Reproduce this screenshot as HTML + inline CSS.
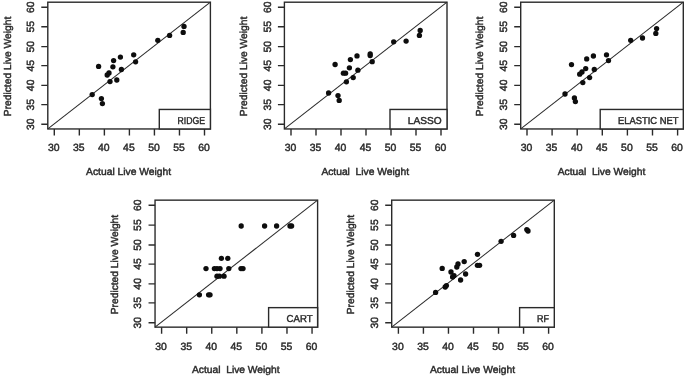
<!DOCTYPE html>
<html lang="en">
<head>
<meta charset="utf-8">
<title>Predicted vs Actual Live Weight</title>
<style>
html,body{margin:0;padding:0;background:#fff;}
body{width:685px;height:377px;overflow:hidden;font-family:"Liberation Sans",Arial,sans-serif;}
svg{display:block;}
svg text{font-family:"Liberation Sans",Arial,sans-serif;fill:#2b2b2b;stroke:#2b2b2b;stroke-width:0.45;text-rendering:geometricPrecision;}
.ln{stroke:#2b2b2b;stroke-width:1.4;fill:none;}
.dg{stroke:#2b2b2b;stroke-width:1.05;fill:none;}
.pt{fill:#0a0a0a;}
.tk{font-size:10.4px;text-anchor:middle;}
.ax{font-size:10.2px;text-anchor:middle;white-space:pre;}
.lg{font-size:10px;text-anchor:end;}
</style>
</head>
<body>
<svg width="685" height="377" viewBox="0 0 685 377">
<defs><filter id="soft" x="0" y="0" width="685" height="377" filterUnits="userSpaceOnUse"><feGaussianBlur stdDeviation="0.38"/></filter></defs>
<rect x="0" y="0" width="685" height="377" fill="#ffffff"/>
<g filter="url(#soft)">

<g>
<rect class="ln" x="47.8" y="2.2" width="162.6" height="126.75"/>
<line class="dg" x1="47.8" y1="128.95" x2="210.4" y2="2.2"/>
<rect class="ln" x="159.3" y="109.45" width="51.1" height="19.5" fill="#fff" style="fill:#fff"/>
<text class="lg" x="205" y="123.75" textLength="27.5" lengthAdjust="spacingAndGlyphs">RIDGE</text>
<path class="ln" d="M54.3 128.95v6.5M47.8 124.26h-6.5M79.33 128.95v6.5M47.8 104.64h-6.5M104.37 128.95v6.5M47.8 85.37h-6.5M129.4 128.95v6.5M47.8 65.65h-6.5M154.43 128.95v6.5M47.8 46.65h-6.5M179.47 128.95v6.5M47.8 26.76h-6.5M204.5 128.95v6.5M47.8 7.22h-6.5"/>
<text class="tk" x="53.8" y="151.3">30</text>
<text class="tk" x="78.83" y="151.3">35</text>
<text class="tk" x="103.87" y="151.3">40</text>
<text class="tk" x="128.9" y="151.3">45</text>
<text class="tk" x="153.93" y="151.3">50</text>
<text class="tk" x="178.97" y="151.3">55</text>
<text class="tk" x="204" y="151.3">60</text>
<text class="tk" transform="translate(34.2 124.26) rotate(-90)">30</text>
<text class="tk" transform="translate(34.2 104.64) rotate(-90)">35</text>
<text class="tk" transform="translate(34.2 85.37) rotate(-90)">40</text>
<text class="tk" transform="translate(34.2 65.65) rotate(-90)">45</text>
<text class="tk" transform="translate(34.2 46.65) rotate(-90)">50</text>
<text class="tk" transform="translate(34.2 26.76) rotate(-90)">55</text>
<text class="tk" transform="translate(34.2 7.22) rotate(-90)">60</text>
<text class="ax" xml:space="preserve" x="128.6" y="175.35" textLength="85" lengthAdjust="spacingAndGlyphs">Actual Live Weight</text>
<text class="ax" transform="translate(10.5 66.47) rotate(-90)" textLength="99.4" lengthAdjust="spacingAndGlyphs">Predicted Live Weight</text>
<circle class="pt" cx="184" cy="26.4" r="2.65"/>
<circle class="pt" cx="183.2" cy="32.4" r="2.65"/>
<circle class="pt" cx="169.6" cy="35.4" r="2.65"/>
<circle class="pt" cx="157.8" cy="40.3" r="2.65"/>
<circle class="pt" cx="133.7" cy="54.8" r="2.65"/>
<circle class="pt" cx="135.6" cy="61.8" r="2.65"/>
<circle class="pt" cx="120.4" cy="57.1" r="2.65"/>
<circle class="pt" cx="113.6" cy="60.6" r="2.65"/>
<circle class="pt" cx="112.9" cy="66.8" r="2.65"/>
<circle class="pt" cx="121.4" cy="69.5" r="2.65"/>
<circle class="pt" cx="109" cy="73" r="2.65"/>
<circle class="pt" cx="107.2" cy="75" r="2.65"/>
<circle class="pt" cx="110" cy="81.6" r="2.65"/>
<circle class="pt" cx="116.8" cy="80" r="2.65"/>
<circle class="pt" cx="98.6" cy="66.4" r="2.65"/>
<circle class="pt" cx="92.2" cy="94.6" r="2.65"/>
<circle class="pt" cx="101.4" cy="98.6" r="2.65"/>
<circle class="pt" cx="102.4" cy="103.6" r="2.65"/>
</g>
<g>
<rect class="ln" x="284.4" y="2.2" width="162.6" height="126.75"/>
<line class="dg" x1="284.4" y1="128.95" x2="447" y2="2.2"/>
<rect class="ln" x="390" y="109.45" width="57" height="19.5" fill="#fff" style="fill:#fff"/>
<text class="lg" x="441.6" y="123.75" textLength="33.8" lengthAdjust="spacingAndGlyphs">LASSO</text>
<path class="ln" d="M291 128.95v6.5M284.4 124.26h-6.5M316 128.95v6.5M284.4 104.64h-6.5M341 128.95v6.5M284.4 85.37h-6.5M366 128.95v6.5M284.4 65.65h-6.5M391 128.95v6.5M284.4 46.65h-6.5M416 128.95v6.5M284.4 26.76h-6.5M441 128.95v6.5M284.4 7.22h-6.5"/>
<text class="tk" x="290.5" y="151.3">30</text>
<text class="tk" x="315.5" y="151.3">35</text>
<text class="tk" x="340.5" y="151.3">40</text>
<text class="tk" x="365.5" y="151.3">45</text>
<text class="tk" x="390.5" y="151.3">50</text>
<text class="tk" x="415.5" y="151.3">55</text>
<text class="tk" x="440.5" y="151.3">60</text>
<text class="tk" transform="translate(270.8 124.26) rotate(-90)">30</text>
<text class="tk" transform="translate(270.8 104.64) rotate(-90)">35</text>
<text class="tk" transform="translate(270.8 85.37) rotate(-90)">40</text>
<text class="tk" transform="translate(270.8 65.65) rotate(-90)">45</text>
<text class="tk" transform="translate(270.8 46.65) rotate(-90)">50</text>
<text class="tk" transform="translate(270.8 26.76) rotate(-90)">55</text>
<text class="tk" transform="translate(270.8 7.22) rotate(-90)">60</text>
<text class="ax" xml:space="preserve" x="365.2" y="175.35" textLength="87.6" lengthAdjust="spacingAndGlyphs">Actual  Live Weight</text>
<text class="ax" transform="translate(247.1 66.47) rotate(-90)" textLength="99.4" lengthAdjust="spacingAndGlyphs">Predicted Live Weight</text>
<circle class="pt" cx="420.2" cy="30.4" r="2.65"/>
<circle class="pt" cx="419.4" cy="35.4" r="2.65"/>
<circle class="pt" cx="406.1" cy="41.1" r="2.65"/>
<circle class="pt" cx="393.7" cy="41.8" r="2.65"/>
<circle class="pt" cx="370.2" cy="53.8" r="2.65"/>
<circle class="pt" cx="370.2" cy="55.6" r="2.65"/>
<circle class="pt" cx="372.2" cy="61.7" r="2.65"/>
<circle class="pt" cx="357" cy="55.9" r="2.65"/>
<circle class="pt" cx="350.4" cy="59.6" r="2.65"/>
<circle class="pt" cx="335.1" cy="64.5" r="2.65"/>
<circle class="pt" cx="349.4" cy="67.8" r="2.65"/>
<circle class="pt" cx="357.9" cy="70.2" r="2.65"/>
<circle class="pt" cx="345.6" cy="73.2" r="2.65"/>
<circle class="pt" cx="343.4" cy="73.2" r="2.65"/>
<circle class="pt" cx="353.2" cy="77.6" r="2.65"/>
<circle class="pt" cx="346.4" cy="81.8" r="2.65"/>
<circle class="pt" cx="328.6" cy="93" r="2.65"/>
<circle class="pt" cx="338" cy="95.6" r="2.65"/>
<circle class="pt" cx="339.2" cy="100.4" r="2.65"/>
</g>
<g>
<rect class="ln" x="520.7" y="2.2" width="162.6" height="126.75"/>
<line class="dg" x1="520.7" y1="128.95" x2="683.3" y2="2.2"/>
<rect class="ln" x="600.2" y="109.45" width="83.1" height="19.5" fill="#fff" style="fill:#fff"/>
<text class="lg" x="678.4" y="123.75" textLength="60.4" lengthAdjust="spacingAndGlyphs">ELASTIC NET</text>
<path class="ln" d="M527 128.95v6.5M520.7 124.26h-6.5M552.1 128.95v6.5M520.7 104.64h-6.5M577.2 128.95v6.5M520.7 85.37h-6.5M602.3 128.95v6.5M520.7 65.65h-6.5M627.4 128.95v6.5M520.7 46.65h-6.5M652.5 128.95v6.5M520.7 26.76h-6.5M677.6 128.95v6.5M520.7 7.22h-6.5"/>
<text class="tk" x="526.5" y="151.3">30</text>
<text class="tk" x="551.6" y="151.3">35</text>
<text class="tk" x="576.7" y="151.3">40</text>
<text class="tk" x="601.8" y="151.3">45</text>
<text class="tk" x="626.9" y="151.3">50</text>
<text class="tk" x="652" y="151.3">55</text>
<text class="tk" x="677.1" y="151.3">60</text>
<text class="tk" transform="translate(507.1 124.26) rotate(-90)">30</text>
<text class="tk" transform="translate(507.1 104.64) rotate(-90)">35</text>
<text class="tk" transform="translate(507.1 85.37) rotate(-90)">40</text>
<text class="tk" transform="translate(507.1 65.65) rotate(-90)">45</text>
<text class="tk" transform="translate(507.1 46.65) rotate(-90)">50</text>
<text class="tk" transform="translate(507.1 26.76) rotate(-90)">55</text>
<text class="tk" transform="translate(507.1 7.22) rotate(-90)">60</text>
<text class="ax" xml:space="preserve" x="601.5" y="175.35" textLength="87.6" lengthAdjust="spacingAndGlyphs">Actual  Live Weight</text>
<text class="ax" transform="translate(483.4 66.47) rotate(-90)" textLength="99.4" lengthAdjust="spacingAndGlyphs">Predicted Live Weight</text>
<circle class="pt" cx="656.6" cy="28.6" r="2.65"/>
<circle class="pt" cx="655.8" cy="33.4" r="2.65"/>
<circle class="pt" cx="642.5" cy="38" r="2.65"/>
<circle class="pt" cx="630.7" cy="40.3" r="2.65"/>
<circle class="pt" cx="606.5" cy="54.8" r="2.65"/>
<circle class="pt" cx="608.5" cy="60.6" r="2.65"/>
<circle class="pt" cx="593.4" cy="56" r="2.65"/>
<circle class="pt" cx="586.7" cy="58.9" r="2.65"/>
<circle class="pt" cx="571.5" cy="64.6" r="2.65"/>
<circle class="pt" cx="585.7" cy="68.6" r="2.65"/>
<circle class="pt" cx="594.3" cy="69.5" r="2.65"/>
<circle class="pt" cx="582" cy="72" r="2.65"/>
<circle class="pt" cx="579.7" cy="74.2" r="2.65"/>
<circle class="pt" cx="589.6" cy="77.6" r="2.65"/>
<circle class="pt" cx="582.8" cy="82.6" r="2.65"/>
<circle class="pt" cx="565" cy="94" r="2.65"/>
<circle class="pt" cx="574.4" cy="98" r="2.65"/>
<circle class="pt" cx="575.4" cy="101.6" r="2.65"/>
</g>
<g>
<rect class="ln" x="155.05" y="200.15" width="162.55" height="127"/>
<line class="dg" x1="155.05" y1="327.15" x2="317.6" y2="200.15"/>
<rect class="ln" x="268.6" y="307.65" width="49" height="19.5" fill="#fff" style="fill:#fff"/>
<text class="lg" x="312.6" y="322.45" textLength="26" lengthAdjust="spacingAndGlyphs">CART</text>
<path class="ln" d="M161.6 327.15v6.5M155.05 322.71h-6.5M186.68 327.15v6.5M155.05 302.85h-6.5M211.75 327.15v6.5M155.05 283.85h-6.5M236.82 327.15v6.5M155.05 264.09h-6.5M261.9 327.15v6.5M155.05 244.93h-6.5M286.98 327.15v6.5M155.05 225.1h-6.5M312.05 327.15v6.5M155.05 205.29h-6.5"/>
<text class="tk" x="161.1" y="349.5">30</text>
<text class="tk" x="186.18" y="349.5">35</text>
<text class="tk" x="211.25" y="349.5">40</text>
<text class="tk" x="236.32" y="349.5">45</text>
<text class="tk" x="261.4" y="349.5">50</text>
<text class="tk" x="286.48" y="349.5">55</text>
<text class="tk" x="311.55" y="349.5">60</text>
<text class="tk" transform="translate(141.45 322.71) rotate(-90)">30</text>
<text class="tk" transform="translate(141.45 302.85) rotate(-90)">35</text>
<text class="tk" transform="translate(141.45 283.85) rotate(-90)">40</text>
<text class="tk" transform="translate(141.45 264.09) rotate(-90)">45</text>
<text class="tk" transform="translate(141.45 244.93) rotate(-90)">50</text>
<text class="tk" transform="translate(141.45 225.1) rotate(-90)">55</text>
<text class="tk" transform="translate(141.45 205.29) rotate(-90)">60</text>
<text class="ax" xml:space="preserve" x="235.83" y="373.15" textLength="87.6" lengthAdjust="spacingAndGlyphs">Actual  Live Weight</text>
<text class="ax" transform="translate(117.75 264.55) rotate(-90)" textLength="99.4" lengthAdjust="spacingAndGlyphs">Predicted Live Weight</text>
<circle class="pt" cx="241.2" cy="226" r="2.65"/>
<circle class="pt" cx="264.6" cy="226" r="2.65"/>
<circle class="pt" cx="276.6" cy="226" r="2.65"/>
<circle class="pt" cx="290" cy="226" r="2.65"/>
<circle class="pt" cx="291.6" cy="226" r="2.65"/>
<circle class="pt" cx="221.4" cy="258.3" r="2.65"/>
<circle class="pt" cx="227.8" cy="258.3" r="2.65"/>
<circle class="pt" cx="206" cy="268.6" r="2.65"/>
<circle class="pt" cx="214.4" cy="268.6" r="2.65"/>
<circle class="pt" cx="217" cy="268.6" r="2.65"/>
<circle class="pt" cx="220" cy="268.6" r="2.65"/>
<circle class="pt" cx="228.8" cy="268.6" r="2.65"/>
<circle class="pt" cx="241" cy="268.6" r="2.65"/>
<circle class="pt" cx="243" cy="268.6" r="2.65"/>
<circle class="pt" cx="217" cy="276.2" r="2.65"/>
<circle class="pt" cx="219.4" cy="276.2" r="2.65"/>
<circle class="pt" cx="224" cy="276.2" r="2.65"/>
<circle class="pt" cx="199.4" cy="294.8" r="2.65"/>
<circle class="pt" cx="208.6" cy="294.8" r="2.65"/>
<circle class="pt" cx="210" cy="294.8" r="2.65"/>
</g>
<g>
<rect class="ln" x="391.7" y="200.15" width="162.6" height="127"/>
<line class="dg" x1="391.7" y1="327.15" x2="554.3" y2="200.15"/>
<rect class="ln" x="519.6" y="307.65" width="34.7" height="19.5" fill="#fff" style="fill:#fff"/>
<text class="lg" x="549" y="322.45" textLength="12" lengthAdjust="spacingAndGlyphs">RF</text>
<path class="ln" d="M398.4 327.15v6.5M391.7 322.71h-6.5M423.43 327.15v6.5M391.7 302.85h-6.5M448.47 327.15v6.5M391.7 283.85h-6.5M473.5 327.15v6.5M391.7 264.09h-6.5M498.53 327.15v6.5M391.7 244.93h-6.5M523.57 327.15v6.5M391.7 225.1h-6.5M548.6 327.15v6.5M391.7 205.29h-6.5"/>
<text class="tk" x="397.9" y="349.5">30</text>
<text class="tk" x="422.93" y="349.5">35</text>
<text class="tk" x="447.97" y="349.5">40</text>
<text class="tk" x="473" y="349.5">45</text>
<text class="tk" x="498.03" y="349.5">50</text>
<text class="tk" x="523.07" y="349.5">55</text>
<text class="tk" x="548.1" y="349.5">60</text>
<text class="tk" transform="translate(378.1 322.71) rotate(-90)">30</text>
<text class="tk" transform="translate(378.1 302.85) rotate(-90)">35</text>
<text class="tk" transform="translate(378.1 283.85) rotate(-90)">40</text>
<text class="tk" transform="translate(378.1 264.09) rotate(-90)">45</text>
<text class="tk" transform="translate(378.1 244.93) rotate(-90)">50</text>
<text class="tk" transform="translate(378.1 225.1) rotate(-90)">55</text>
<text class="tk" transform="translate(378.1 205.29) rotate(-90)">60</text>
<text class="ax" xml:space="preserve" x="472.5" y="373.15" textLength="85" lengthAdjust="spacingAndGlyphs">Actual Live Weight</text>
<text class="ax" transform="translate(354.4 264.55) rotate(-90)" textLength="99.4" lengthAdjust="spacingAndGlyphs">Predicted Live Weight</text>
<circle class="pt" cx="526.8" cy="229.6" r="2.65"/>
<circle class="pt" cx="528" cy="231" r="2.65"/>
<circle class="pt" cx="513.6" cy="235.4" r="2.65"/>
<circle class="pt" cx="501.1" cy="241.3" r="2.65"/>
<circle class="pt" cx="477.5" cy="254.3" r="2.65"/>
<circle class="pt" cx="464.2" cy="261.6" r="2.65"/>
<circle class="pt" cx="458" cy="264" r="2.65"/>
<circle class="pt" cx="456.8" cy="267" r="2.65"/>
<circle class="pt" cx="477.4" cy="265.3" r="2.65"/>
<circle class="pt" cx="479.6" cy="265.3" r="2.65"/>
<circle class="pt" cx="442.2" cy="268.4" r="2.65"/>
<circle class="pt" cx="451" cy="272" r="2.65"/>
<circle class="pt" cx="465.6" cy="274" r="2.65"/>
<circle class="pt" cx="454" cy="275.6" r="2.65"/>
<circle class="pt" cx="452.6" cy="277" r="2.65"/>
<circle class="pt" cx="460.6" cy="280" r="2.65"/>
<circle class="pt" cx="446.4" cy="285.6" r="2.65"/>
<circle class="pt" cx="445.2" cy="287" r="2.65"/>
<circle class="pt" cx="435.6" cy="292.4" r="2.65"/>
</g>
</g>
</svg>
</body>
</html>
